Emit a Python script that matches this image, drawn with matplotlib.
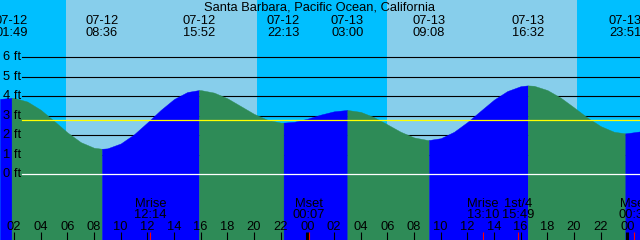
import numpy as np
import matplotlib.pyplot as plt

plt.rcParams['font.family'] = ['Liberation Sans', 'DejaVu Sans']

title = "Santa Barbara, Pacific Ocean, California"

# high / low tides (hours counted from 07-12 00:00)
tide_dates = ["07-12", "07-12", "07-12", "07-12", "07-13", "07-13", "07-13", "07-13"]
tide_times = ["01:49", "08:36", "15:52", "22:13", "03:00", "09:08", "16:32", "23:51"]
tide_hours = [1.82, 8.6, 15.87, 22.22, 27.0, 33.13, 40.53, 47.85]

# water level (ft)
curve_hours = [0.95, 1, 1.82, 2, 3, 4, 5, 6, 7, 8, 8.6,
               9, 10, 11, 12, 13, 14, 15, 15.87,
               16, 17, 18, 19, 20, 21, 22, 22.22,
               23, 24, 25, 26, 27,
               28, 29, 30, 31, 32, 33, 33.13,
               34, 35, 36, 37, 38, 39, 40, 40.53,
               41, 42, 43, 44, 45, 46, 47, 47.85, 48, 48.95]
curve_feet = [3.86, 3.87, 3.92, 3.92, 3.73, 3.31, 2.74, 2.15, 1.65, 1.36, 1.31,
              1.33, 1.58, 2.05, 2.66, 3.30, 3.86, 4.22, 4.32,
              4.32, 4.19, 3.90, 3.50, 3.10, 2.80, 2.65, 2.65,
              2.69, 2.85, 3.06, 3.23, 3.30,
              3.20, 2.93, 2.56, 2.18, 1.89, 1.76, 1.76,
              1.85, 2.18, 2.68, 3.26, 3.83, 4.27, 4.52, 4.56,
              4.54, 4.32, 3.93, 3.43, 2.91, 2.47, 2.18, 2.10, 2.11, 2.20]

mean_level = 2.77
feet_levels = [0, 1, 2, 3, 4, 5, 6]

sunrise_hours = [5.9, 29.95]
sunset_hours = [20.22, 44.23]

moon_hours = [12.23, 24.12, 37.17, 39.82, 48.53]
moon_names = ["Mrise", "Mset", "Mrise", "1st/4", "Mset"]
moon_times = ["12:14", "00:07", "13:10", "15:49", "00:32"]

hour_ticks = list(range(2, 49, 2))

NIGHT = "#00BFFF"
DAY = "#87CEEB"
RISING = "#0000FF"
FALLING = "#2E8B57"
fs = 9.3

t0, t1 = 0.95, 48.95
ybot, ytop = -3.37, 8.94

fig = plt.figure(figsize=(6.4, 2.4), dpi=100)
fig.patch.set_facecolor(NIGHT)
ax = fig.add_axes([0, 0, 1, 1])
ax.set_xlim(t0, t1)
ax.set_ylim(ybot, ytop)
ax.axis('off')


def ypx(p):
    # pixel row -> axes fraction
    return 1 - p / 240.0


for a, b in zip(sunrise_hours, sunset_hours):
    ax.axvspan(a, b, color=DAY, lw=0, zorder=0)

for lv in feet_levels[1:]:
    ax.axhline(lv, xmin=22 / 640, color="black", lw=0.8, zorder=1)

hours = np.array(curve_hours)
feet = np.array(curve_feet)
bounds = [t0] + tide_hours + [t1]
for a, b in zip(bounds[:-1], bounds[1:]):
    m = (hours >= a - 1e-6) & (hours <= b + 1e-6)
    col = RISING if feet[m][-1] > feet[m][0] else FALLING
    ax.fill_between(hours[m], feet[m], ybot, color=col, lw=0.3,
                    edgecolor=col, zorder=2)

ax.axhline(0, xmin=22 / 640, color="white", lw=0.9, zorder=3)
ax.axhline(mean_level, xmin=22 / 640, color="#FFFF00", lw=0.9, zorder=3)

for lv in feet_levels:
    ax.text(t0 + 2.7 / 13.333, lv, f"{lv} ft", fontsize=fs, ha="left",
            va="center", zorder=5)

tr = ax.get_xaxis_transform()
ax.text(0.5, ypx(10.7), title, transform=ax.transAxes, fontsize=fs,
        ha="center", va="baseline", zorder=5)
for h, d, s in zip(tide_hours, tide_dates, tide_times):
    ax.text(h, ypx(24), d, transform=tr, fontsize=fs, ha="center",
            va="baseline", zorder=5)
    ax.text(h, ypx(36), s, transform=tr, fontsize=fs, ha="center",
            va="baseline", zorder=5)

for h in hour_ticks:
    ax.text(h, ypx(230), f"{h % 24:02d}", transform=tr, fontsize=fs,
            ha="center", va="baseline", zorder=5)
    thick = (h % 24 == 0)
    ax.vlines(h, 0, ypx(232), transform=tr, color="black",
              lw=2.2 if thick else 0.8, zorder=5)

for h, n, s in zip(moon_hours, moon_names, moon_times):
    ax.text(h, ypx(206.7), n, transform=tr, fontsize=fs, ha="center",
            va="baseline", zorder=5)
    ax.text(h, ypx(218.3), s, transform=tr, fontsize=fs, ha="center",
            va="baseline", zorder=5)
    ax.vlines(h, 0, ypx(232), transform=tr, color="red", lw=0.8, zorder=6)

fig.savefig("out.png", dpi=100, facecolor=NIGHT)
